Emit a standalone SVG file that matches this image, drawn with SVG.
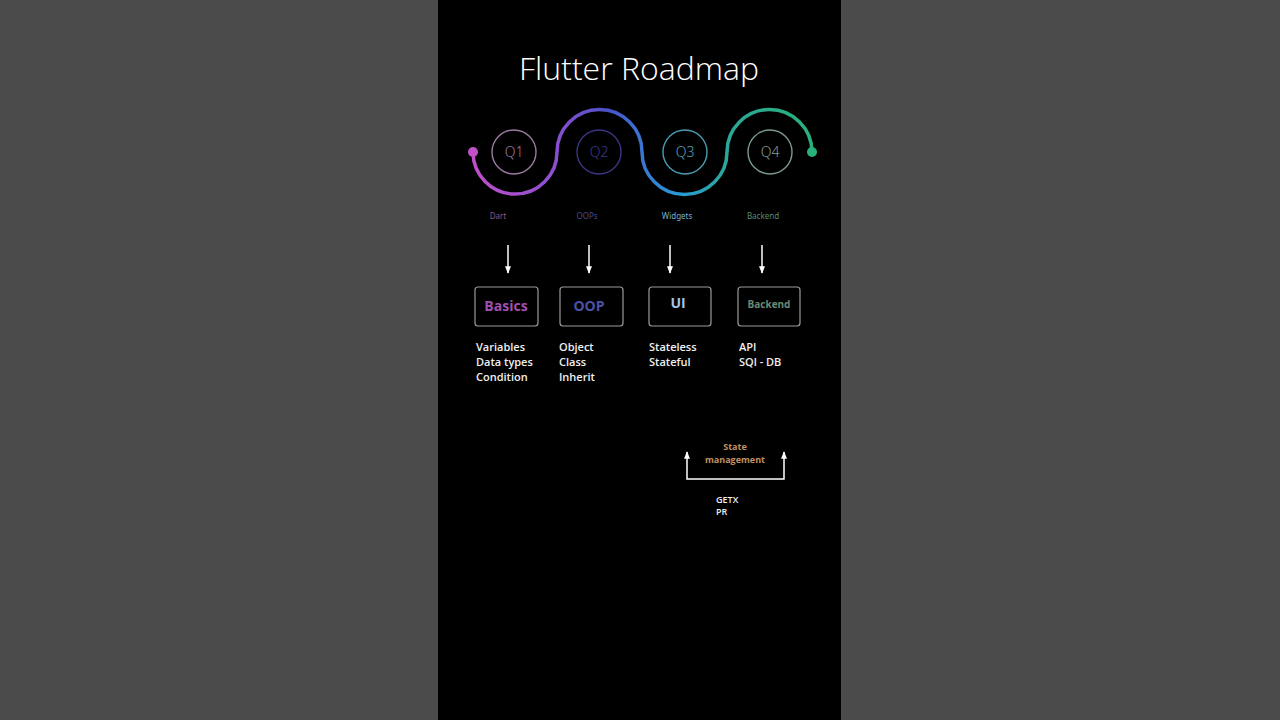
<svg xmlns="http://www.w3.org/2000/svg" width="1280" height="720" viewBox="0 0 1280 720">
<defs>
<linearGradient id="wave" gradientUnits="userSpaceOnUse" x1="470" y1="0" x2="815" y2="0">
<stop offset="0" stop-color="#c04fc8"/>
<stop offset="0.25" stop-color="#8a4fd0"/>
<stop offset="0.4" stop-color="#4a52c8"/>
<stop offset="0.6" stop-color="#2a9ad8"/>
<stop offset="0.75" stop-color="#2aa898"/>
<stop offset="1" stop-color="#2ab07a"/>
</linearGradient>
<marker id="ah" viewBox="0 0 10 10" refX="9" refY="5" markerWidth="5" markerHeight="5" orient="auto-start-reverse">
<path d="M0,1 L10,5 L0,9 z" fill="#ffffff"/>
</marker>
<style>
.q{font-family:"Noto Sans","DejaVu Sans",sans-serif;font-size:14px;font-weight:300;text-anchor:middle}
.qc{fill:none;stroke-width:1.4}
.tag{font-family:"Noto Sans","DejaVu Sans",sans-serif;font-size:8px;text-anchor:middle}
.box{fill:#000;stroke:#9a9a9a;stroke-width:1.2}
.bt{font-family:"Open Sans","Noto Sans",sans-serif;font-weight:700;text-anchor:middle}
.lst{font-family:"Open Sans","Noto Sans",sans-serif;font-size:11px;font-weight:600;fill:#f0f0f0}
.sm{font-family:"Open Sans","Noto Sans",sans-serif;font-size:9px;font-weight:600;fill:#f0f0f0}
.conn{stroke:#ffffff;stroke-width:1.5;fill:none}
</style>
</defs>
<rect x="0" y="0" width="1280" height="720" fill="#4b4b4b"/>
<rect x="438" y="0" width="403" height="720" fill="#000000"/>
<text x="639" y="80" font-family="'Open Sans','Noto Sans',sans-serif" font-size="32" font-weight="300" fill="#ffffff" text-anchor="middle">Flutter Roadmap</text>

<g id="wave-path">
<path d="M473,152 A42,42 0 0 0 557,152 A42.5,42.5 0 0 1 642,152 A42.5,42.5 0 0 0 727,152 A42.5,42.5 0 0 1 812,152" fill="none" stroke="url(#wave)" stroke-width="3.5" stroke-linecap="round"/>
<circle cx="473" cy="152" r="5" fill="#c04fc8"/>
<circle cx="812" cy="152" r="5" fill="#2ab07a"/>
</g>

<g id="q1"><circle class="qc" cx="514" cy="152" r="22" stroke="#9a7aa0"/><text class="q" x="514" y="157" fill="#9a7aa0">Q1</text></g>
<g id="q2"><circle class="qc" cx="599" cy="152" r="22" stroke="#3a3580"/><text class="q" x="599" y="157" fill="#3a3a8a">Q2</text></g>
<g id="q3"><circle class="qc" cx="685" cy="152" r="22" stroke="#4a9ab0"/><text class="q" x="685" y="157" fill="#5aa0b8">Q3</text></g>
<g id="q4"><circle class="qc" cx="770" cy="152" r="22" stroke="#7a9a8a"/><text class="q" x="770" y="157" fill="#8a9a90">Q4</text></g>

<g id="tags">
<text class="tag" x="498" y="219" fill="#8a5a8a">Dart</text>
<text class="tag" x="587" y="219" fill="#4a4a90">OOPs</text>
<text class="tag" x="677" y="219" fill="#7ab0d0">Widgets</text>
<text class="tag" x="763" y="219" fill="#5a8a70">Backend</text>
</g>

<g id="connectors">
<line class="conn" x1="508" y1="245" x2="508" y2="273" marker-end="url(#ah)"/>
<line class="conn" x1="589" y1="245" x2="589" y2="273" marker-end="url(#ah)"/>
<line class="conn" x1="670" y1="245" x2="670" y2="273" marker-end="url(#ah)"/>
<line class="conn" x1="762" y1="245" x2="762" y2="273" marker-end="url(#ah)"/>
<path class="conn" d="M687,452 L687,479 L784,479 L784,452" marker-start="url(#ah)" marker-end="url(#ah)"/>
</g>

<g id="basics"><rect class="box" x="475" y="287" width="63" height="39" rx="3"/><text class="bt" x="506" y="311" font-size="14" fill="#a050b0">Basics</text></g>
<g id="oop"><rect class="box" x="560" y="287" width="63" height="39" rx="3"/><text class="bt" x="589" y="311" font-size="14" fill="#4a52a8">OOP</text></g>
<g id="ui"><rect class="box" x="649" y="287" width="62" height="39" rx="3"/><text class="bt" x="678" y="308" font-size="14" fill="#a8c4e8">UI</text></g>
<g id="backend"><rect class="box" x="738" y="287" width="62" height="39" rx="3"/><text class="bt" x="769" y="308" font-size="10" fill="#6a8a74">Backend</text></g>

<g id="list-basics">
<text class="lst" x="476" y="351">Variables</text>
<text class="lst" x="476" y="366">Data types</text>
<text class="lst" x="476" y="381">Condition</text>
</g>
<g id="list-oop">
<text class="lst" x="559" y="351">Object</text>
<text class="lst" x="559" y="366">Class</text>
<text class="lst" x="559" y="381">Inherit</text>
</g>
<g id="list-ui">
<text class="lst" x="649" y="351">Stateless</text>
<text class="lst" x="649" y="366">Stateful</text>
</g>
<g id="list-backend">
<text class="lst" x="739" y="351">API</text>
<text class="lst" x="739" y="366">SQl - DB</text>
</g>

<g id="state-management">
<text class="bt" x="735" y="450" font-size="9" fill="#c09060">State</text>
<text class="bt" x="735" y="463" font-size="9" fill="#c09060">management</text>
</g>
<g id="state-list">
<text class="sm" x="716" y="503">GETX</text>
<text class="sm" x="716" y="515">PR</text>
</g>
</svg>
